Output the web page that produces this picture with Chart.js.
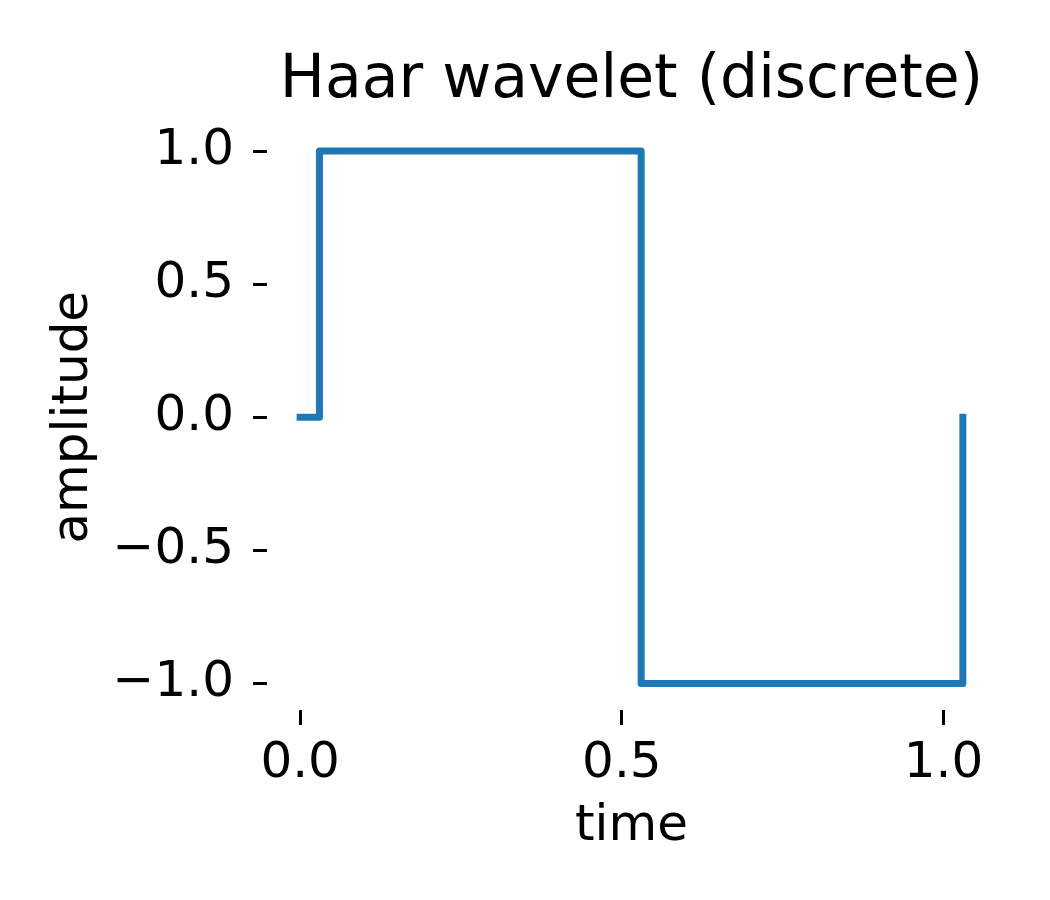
<!DOCTYPE html>
<html>
<head>
<meta charset="utf-8">
<script src="https://cdn.jsdelivr.net/npm/chart.js@4.4.1/dist/chart.umd.min.js"></script>
<style>
  html, body { margin: 0; padding: 0; background: #ffffff; }
  #wrap { width: 1050px; height: 900px; }
</style>
</head>
<body>
<div id="wrap"><canvas id="c" width="1050" height="900"></canvas></div>
<script>
// ---- data ----
const timeValues = [0.0, 0.03, 0.53, 1.03];
const amplitudeValues = [0, 1, -1, 0];
const xTickValues = [0.0, 0.5, 1.0];
const yTickValues = [-1.0, -0.5, 0.0, 0.5, 1.0];
const chartTitle = 'Haar wavelet (discrete)';
const xLabel = 'time';
const yLabel = 'amplitude';

const points = timeValues.map((t, i) => ({ x: t, y: amplitudeValues[i] }));
const fmt = v => (v < 0 ? '\u2212' : '') + Math.abs(v).toFixed(1);
const FONT = "'DejaVu Sans', 'Liberation Sans', sans-serif";

new Chart(document.getElementById('c'), {
  type: 'line',
  data: {
    datasets: [{
      data: points,
      borderColor: '#1f77b4',
      borderWidth: 7,
      stepped: 'before',
      pointRadius: 0,
      fill: false,
      borderCapStyle: 'square',
      borderJoinStyle: 'round',
      tension: 0
    }]
  },
  options: {
    responsive: false,
    animation: false,
    devicePixelRatio: 1,
    layout: { padding: { left: 0, right: 54, top: 0, bottom: 0 } },
    plugins: {
      legend: { display: false },
      tooltip: { enabled: false },
      title: {
        display: true,
        text: chartTitle,
        fullSize: false,
        color: '#000000',
        font: { family: FONT, size: 60, weight: 'normal', lineHeight: 1.2 },
        padding: { top: 45, bottom: 7.4 }
      }
    },
    scales: {
      x: {
        type: 'linear',
        min: -0.0515,
        max: 1.0815,
        afterBuildTicks: s => { s.ticks = xTickValues.map(v => ({ value: v })); },
        afterFit: s => { s.height = 190; },
        border: { display: false },
        grid: { drawOnChartArea: false, drawTicks: true, tickLength: 15, tickColor: '#000000', lineWidth: 3 },
        ticks: { color: '#000000', padding: 9, maxRotation: 0, autoSkip: false,
                 font: { family: FONT, size: 50 }, callback: v => fmt(v) },
        title: { display: true, text: xLabel, color: '#000000',
                 font: { family: FONT, size: 50, lineHeight: 1.2 }, padding: { top: 0, bottom: 43 } }
      },
      y: {
        type: 'linear',
        min: -1.1,
        max: 1.1,
        afterBuildTicks: s => { s.ticks = yTickValues.map(v => ({ value: v })); },
        afterFit: s => { s.width = 267; },
        border: { display: false },
        grid: { drawOnChartArea: false, drawTicks: true, tickLength: 14, tickColor: '#000000', lineWidth: 3 },
        ticks: { color: '#000000', padding: 19, autoSkip: false,
                 font: { family: FONT, size: 50 }, callback: v => fmt(v) },
        title: { display: true, text: yLabel, color: '#000000',
                 font: { family: FONT, size: 50, lineHeight: 1.2 }, padding: { top: 44.5, bottom: 0 } }
      }
    }
  }
});
</script>
</body>
</html>
